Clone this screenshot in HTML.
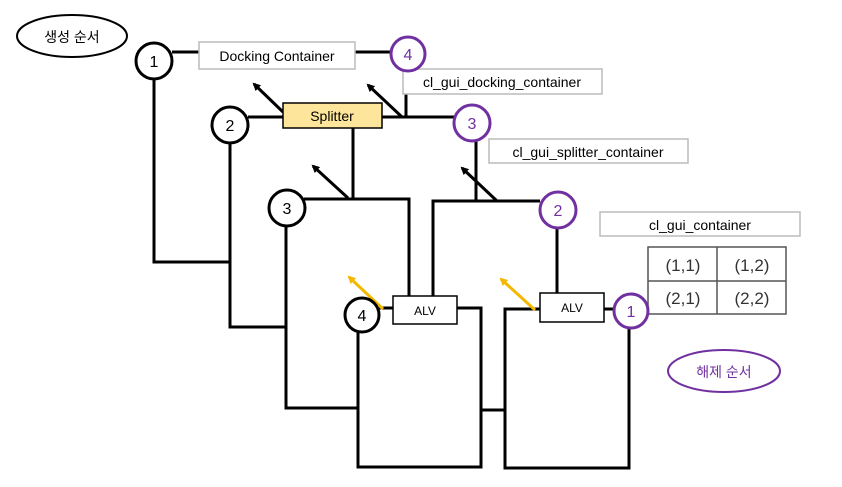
<!DOCTYPE html>
<html><head><meta charset="utf-8"><style>
html,body{margin:0;padding:0;background:#fff;}
svg{display:block;}
text{font-family:"Liberation Sans","Noto Sans CJK KR",sans-serif;}
</style></head><body>
<svg width="842" height="487" viewBox="0 0 842 487" xmlns="http://www.w3.org/2000/svg">
<defs>
<marker id="ab" markerWidth="8" markerHeight="8" refX="6" refY="4" orient="auto" markerUnits="userSpaceOnUse"><path d="M0,0 L8,4 L0,8 Z" fill="#000"/></marker>
<marker id="ay" markerWidth="8" markerHeight="8" refX="6" refY="4" orient="auto" markerUnits="userSpaceOnUse"><path d="M0,0 L8,4 L0,8 Z" fill="#f5b800"/></marker>
</defs>
<g fill="none" stroke="#000" stroke-width="3">
<!-- level 1 -->
<polyline points="172,52 199,52"/>
<polyline points="355,52 390,52"/>
<polyline points="154,79 154,262 230,262"/>
<!-- level 2 -->
<polyline points="248,117 283,117"/>
<polyline points="382,117 455,117"/>
<polyline points="406,94 406,117"/>
<polyline points="230,143 230,327 287,327"/>
<polyline points="353,128 353,199"/>
<!-- box3 -->
<polyline points="304,199 409,199 409,296"/>
<polyline points="286,226 286,408 358,408"/>
<polyline points="476,140 476,201"/>
<polyline points="540,201 433,201 433,296"/>
<polyline points="557,228 557,293"/>
<!-- box4 left -->
<polyline points="379,308 393,308"/>
<polyline points="457,308 481,308 481,467 358,467 358,332"/>
<polyline points="481,410 505,410"/>
<!-- box right -->
<polyline points="540,309 505,309 505,468 629,468 629,328"/>
<polyline points="604,309 614,309"/>
</g>
<!-- black arrows -->
<g stroke="#000" stroke-width="3" fill="none">
<line x1="283" y1="112" x2="254" y2="84" marker-end="url(#ab)"/>
<line x1="402" y1="117" x2="368" y2="85" marker-end="url(#ab)"/>
<line x1="348" y1="198" x2="313" y2="166" marker-end="url(#ab)"/>
<line x1="497" y1="201" x2="462" y2="168" marker-end="url(#ab)"/>
</g>
<g stroke="#f5b800" stroke-width="3" fill="none">
<line x1="383" y1="309" x2="349" y2="277" marker-end="url(#ay)"/>
<line x1="535" y1="310" x2="501" y2="279" marker-end="url(#ay)"/>
</g>
<!-- boxes -->
<rect x="199" y="42" width="156" height="27" fill="#fff" stroke="#bbb" stroke-width="1.5"/>
<text x="277" y="61" font-size="14" text-anchor="middle">Docking Container</text>
<rect x="403" y="69" width="199" height="25" fill="#fff" stroke="#bbb" stroke-width="1.5"/>
<text x="502" y="87" font-size="14" text-anchor="middle">cl_gui_docking_container</text>
<rect x="283" y="103" width="99" height="25" fill="#fde59b" stroke="#000" stroke-width="1.5"/>
<text x="332" y="121" font-size="14" text-anchor="middle">Splitter</text>
<rect x="489" y="139" width="199" height="24" fill="#fff" stroke="#bbb" stroke-width="1.5"/>
<text x="588" y="157" font-size="14" text-anchor="middle">cl_gui_splitter_container</text>
<rect x="600" y="212" width="200" height="24" fill="#fff" stroke="#bbb" stroke-width="1.5"/>
<text x="700" y="230" font-size="14" text-anchor="middle">cl_gui_container</text>
<rect x="393" y="296" width="64" height="28" fill="#fff" stroke="#000" stroke-width="1.5"/>
<text x="425" y="315" font-size="12" text-anchor="middle">ALV</text>
<rect x="540" y="293" width="64" height="29" fill="#fff" stroke="#000" stroke-width="1.5"/>
<text x="572" y="312" font-size="12" text-anchor="middle">ALV</text>
<!-- table -->
<g stroke="#555" stroke-width="1.5" fill="#fff">
<rect x="648" y="247" width="138" height="67"/>
<line x1="648" y1="281" x2="786" y2="281"/>
<line x1="717" y1="247" x2="717" y2="314"/>
</g>
<g font-size="17" fill="#333" text-anchor="middle">
<text x="683" y="271">(1,1)</text><text x="752" y="271">(1,2)</text>
<text x="683" y="304">(2,1)</text><text x="752" y="304">(2,2)</text>
</g>
<!-- circles -->
<g stroke-width="3" fill="#fff">
<circle cx="154" cy="61" r="18" stroke="#000"/>
<circle cx="230" cy="125" r="18" stroke="#000"/>
<circle cx="287" cy="208" r="18" stroke="#000"/>
<circle cx="362" cy="315" r="17" stroke="#000"/>
<circle cx="408" cy="54" r="17" stroke="#7030a0"/>
<circle cx="472" cy="123" r="18" stroke="#7030a0"/>
<circle cx="558" cy="210" r="18" stroke="#7030a0"/>
<circle cx="631" cy="311" r="17" stroke="#7030a0"/>
</g>
<g font-size="16" text-anchor="middle">
<text x="154" y="67">1</text><text x="230" y="131">2</text><text x="287" y="214">3</text><text x="362" y="321">4</text>
<g fill="#7030a0"><text x="408" y="60">4</text><text x="472" y="129">3</text><text x="558" y="216">2</text><text x="631" y="317">1</text></g>
</g>
<!-- ellipses -->
<ellipse cx="72" cy="36" rx="55" ry="21" fill="#fff" stroke="#000" stroke-width="2"/>
<text x="72" y="42" font-size="14" text-anchor="middle">생성 순서</text>
<ellipse cx="724" cy="371" rx="56" ry="21" fill="#fff" stroke="#7030a0" stroke-width="2"/>
<text x="724" y="377" font-size="14" text-anchor="middle" fill="#7030a0">해제 순서</text>
</svg>
</body></html>
